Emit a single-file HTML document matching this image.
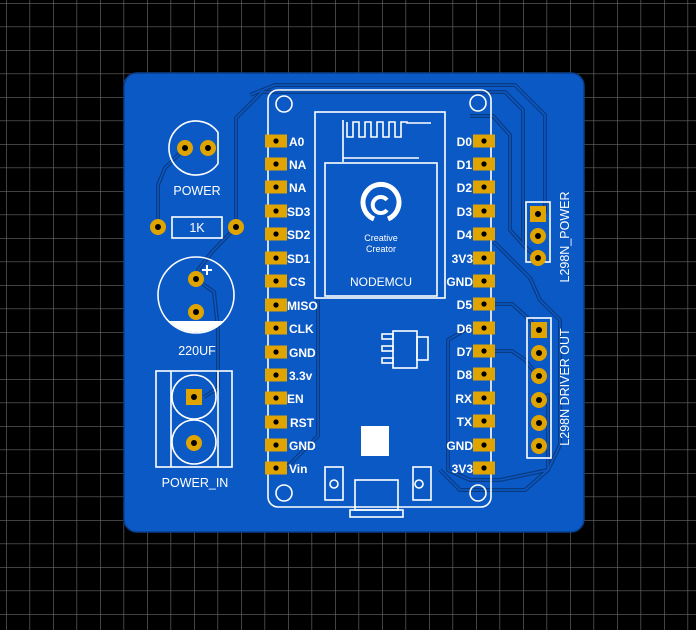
<!DOCTYPE html>
<html><head><meta charset="utf-8"><style>
html,body{margin:0;padding:0;background:#000;}
svg{display:block}
text{font-family:"Liberation Sans",sans-serif;fill:#fff}
</style></head><body>
<svg width="696" height="630" viewBox="0 0 696 630" xmlns="http://www.w3.org/2000/svg">
<defs>
<pattern id="g" x="6" y="3" width="23.5" height="23.5" patternUnits="userSpaceOnUse">
<path d="M0 0H23.5M0 0V23.5" stroke="#666" stroke-width="1.3" fill="none"/>
</pattern>
<g id="sp"><rect x="-11" y="-6.5" width="22" height="13" fill="#e0a400"/><circle r="2.6" fill="#000"/></g>
<g id="rp"><circle r="8" fill="#e0a400"/><circle r="3" fill="#000"/></g>
<g id="qp"><rect x="-8" y="-8" width="16" height="16" fill="#e0a400"/><circle r="3" fill="#000"/></g>
</defs>
<rect width="696" height="630" fill="#000"/>
<rect width="696" height="630" fill="url(#g)"/>
<rect x="124" y="73" width="460" height="459" rx="13" fill="#0b59c4" stroke="#0a3f8c" stroke-width="1.5"/>

<g fill="none" stroke-linejoin="round">
<g stroke="#0a3a82" stroke-width="4">
<path d="M185 148 L165 168 L158 185 L158 227"/>
<path d="M236 227 L236 118 L262 92 L505 92 L523 110 L523 245 L538 258"/>
<path d="M236 227 L212 252 L198 270 L196 279"/>
<path d="M196 279 L214 292 L218 330 L218 388 L204 397"/>
<path d="M250 95 L275 85 L515 85 L545 115 L545 212 L538 214"/>
<path d="M286 468 L318 436 L318 300"/>
<path d="M484 234 L497 245 L530 278 L540 300 L560 320 L560 445 L548 470 L500 480 L470 480 L448 470 L448 340 L470 327"/>
<path d="M484 304 L512 304 L530 320 L538 330"/>
<path d="M484 351 L512 351 L525 360 L538 376"/>
<path d="M470 116 L493 116 L510 135 L510 230 L528 250"/>
<path d="M538 400 L548 395 L548 470 L525 490 L460 490 L440 470"/>
</g>
<g stroke="#0b59c4" stroke-width="1.6">
<path d="M185 148 L165 168 L158 185 L158 227"/>
<path d="M236 227 L236 118 L262 92 L505 92 L523 110 L523 245 L538 258"/>
<path d="M236 227 L212 252 L198 270 L196 279"/>
<path d="M196 279 L214 292 L218 330 L218 388 L204 397"/>
<path d="M250 95 L275 85 L515 85 L545 115 L545 212 L538 214"/>
<path d="M286 468 L318 436 L318 300"/>
<path d="M484 234 L497 245 L530 278 L540 300 L560 320 L560 445 L548 470 L500 480 L470 480 L448 470 L448 340 L470 327"/>
<path d="M484 304 L512 304 L530 320 L538 330"/>
<path d="M484 351 L512 351 L525 360 L538 376"/>
<path d="M470 116 L493 116 L510 135 L510 230 L528 250"/>
<path d="M538 400 L548 395 L548 470 L525 490 L460 490 L440 470"/>
</g>
</g>

<g fill="none" stroke="#fff" stroke-width="1.6">
<rect x="268" y="90" width="223" height="417" rx="10"/>
<circle cx="284" cy="104" r="8"/><circle cx="478" cy="103" r="8"/>
<circle cx="284" cy="493" r="8"/><circle cx="478" cy="493" r="8"/>
<rect x="315" y="112" width="130" height="186"/>
<rect x="325" y="163" width="112" height="133"/>
<path d="M343 162 V120 M343 158 H419"/>
<path d="M347 122 V137 H353 V122 H359 V137 H365 V122 H371 V137 H377 V122 H383 V137 H389 V122 H395 V137 H401 V122 H407 V123 H431"/>
<rect x="393" y="331" width="24" height="37"/>
<rect x="417" y="337" width="11" height="23"/>
<rect x="382" y="334" width="11" height="5"/><rect x="382" y="346" width="11" height="5"/><rect x="382" y="358" width="11" height="5"/>
<rect x="325" y="467" width="18" height="33"/><circle cx="334" cy="484" r="4"/>
<rect x="413" y="467" width="18" height="33"/><circle cx="419" cy="484" r="4"/>
<rect x="355" y="480" width="43" height="30"/>
<rect x="350" y="510" width="53" height="7"/>
<path d="M218 132.4 A27 27 0 1 0 218 163.6 Z"/>
<rect x="172" y="217" width="50" height="21"/>
<circle cx="196" cy="295" r="38"/>
<rect x="156" y="371" width="76" height="96"/>
<path d="M171 371 V467 M218 371 V467"/>
<circle cx="194" cy="397" r="22"/><circle cx="194" cy="442" r="22"/>
<rect x="526" y="202" width="24" height="60"/>
<rect x="527" y="318" width="24" height="140"/>
</g>
<path d="M169 321 H223 A38 38 0 0 1 169 321 Z" fill="#fff"/>
<path d="M202 270 H212 M207 265 V275" stroke="#fff" stroke-width="2"/>
<rect x="361" y="426" width="28" height="30" fill="#fff"/>
<path d="M374 219 A18 18 0 1 1 388 219" fill="none" stroke="#fff" stroke-width="5"/>
<path d="M387 200 A8 8 0 1 0 387 210" fill="none" stroke="#fff" stroke-width="4"/>
<text x="381" y="241" font-size="9" text-anchor="middle">Creative</text>
<text x="381" y="252" font-size="9" text-anchor="middle">Creator</text>
<text x="381" y="286" font-size="12" text-anchor="middle">NODEMCU</text>

<g>
<use href="#sp" x="276" y="141"/><use href="#sp" x="276" y="164"/><use href="#sp" x="276" y="187"/><use href="#sp" x="276" y="211"/><use href="#sp" x="276" y="234"/><use href="#sp" x="276" y="258"/><use href="#sp" x="276" y="281"/><use href="#sp" x="276" y="305"/><use href="#sp" x="276" y="328"/><use href="#sp" x="276" y="352"/><use href="#sp" x="276" y="375"/><use href="#sp" x="276" y="398"/><use href="#sp" x="276" y="422"/><use href="#sp" x="276" y="445"/><use href="#sp" x="276" y="468"/>
<use href="#sp" x="484" y="141"/><use href="#sp" x="484" y="164"/><use href="#sp" x="484" y="187"/><use href="#sp" x="484" y="211"/><use href="#sp" x="484" y="234"/><use href="#sp" x="484" y="258"/><use href="#sp" x="484" y="281"/><use href="#sp" x="484" y="304"/><use href="#sp" x="484" y="328"/><use href="#sp" x="484" y="351"/><use href="#sp" x="484" y="374"/><use href="#sp" x="484" y="398"/><use href="#sp" x="484" y="421"/><use href="#sp" x="484" y="445"/><use href="#sp" x="484" y="468"/>
<use href="#rp" x="185" y="148"/><use href="#rp" x="208" y="148"/>
<use href="#rp" x="158" y="227"/><use href="#rp" x="236" y="227"/>
<use href="#rp" x="196" y="279"/><use href="#rp" x="196" y="312"/>
<use href="#qp" x="194" y="397"/><use href="#rp" x="194" y="443"/>
<use href="#qp" x="538" y="214"/><use href="#rp" x="538" y="236"/><use href="#rp" x="538" y="258"/>
<use href="#qp" x="539" y="330"/><use href="#rp" x="539" y="353"/><use href="#rp" x="539" y="376"/><use href="#rp" x="539" y="400"/><use href="#rp" x="539" y="423"/><use href="#rp" x="539" y="446"/>
</g>

<g font-size="12" font-weight="bold">
<text x="289" y="146">A0</text><text x="289" y="169">NA</text><text x="289" y="192">NA</text><text x="287" y="216">SD3</text><text x="287" y="239">SD2</text><text x="287" y="263">SD1</text><text x="289" y="286">CS</text><text x="287" y="310">MISO</text><text x="289" y="333">CLK</text><text x="289" y="357">GND</text><text x="289" y="380">3.3v</text><text x="287" y="403">EN</text><text x="290" y="427">RST</text><text x="289" y="450">GND</text><text x="289" y="473">Vin</text>
</g>
<g font-size="12" font-weight="bold" text-anchor="end">
<text x="472" y="146">D0</text><text x="472" y="169">D1</text><text x="472" y="192">D2</text><text x="472" y="216">D3</text><text x="472" y="239">D4</text><text x="473" y="263">3V3</text><text x="473" y="286">GND</text><text x="472" y="309">D5</text><text x="472" y="333">D6</text><text x="472" y="356">D7</text><text x="472" y="379">D8</text><text x="472" y="403">RX</text><text x="472" y="426">TX</text><text x="473" y="450">GND</text><text x="473" y="473">3V3</text>
</g>
<g font-size="12.5">
<text x="197" y="195" text-anchor="middle">POWER</text>
<text x="197" y="232" text-anchor="middle">1K</text>
<text x="197" y="355" text-anchor="middle">220UF</text>
<text x="195" y="487" text-anchor="middle">POWER_IN</text>
<text transform="translate(569,237) rotate(-90)" text-anchor="middle">L298N_POWER</text>
<text transform="translate(569,387) rotate(-90)" text-anchor="middle">L298N DRIVER OUT</text>
</g>
</svg>
</body></html>
